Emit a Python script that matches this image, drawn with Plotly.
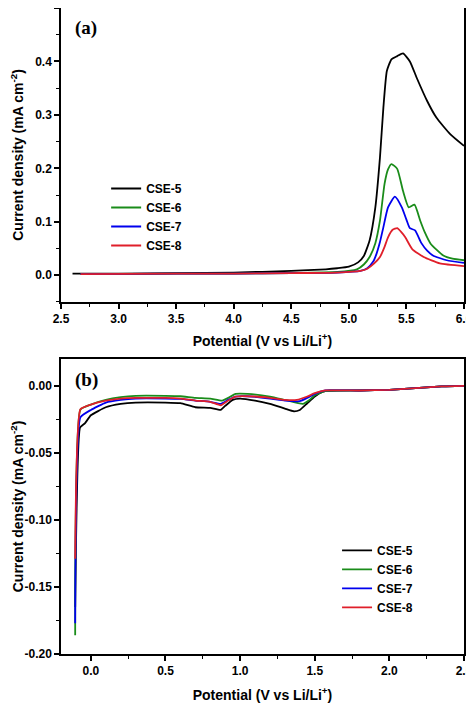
import plotly.graph_objects as go

names = ["CSE-5", "CSE-6", "CSE-7", "CSE-8"]
colors = ["#000000", "#1a8c1a", "#0000ee", "#e01f2a"]

# (a) linear sweep, oxidation side
a_x5 = [2.6, 3.0, 3.5, 4.0, 4.5, 4.8, 4.9, 5.0, 5.08, 5.13, 5.18, 5.23, 5.27, 5.30, 5.33, 5.37, 5.42, 5.47, 5.53, 5.59, 5.68, 5.76, 5.88, 6.0]
a_y5 = [0.003, 0.003, 0.004, 0.005, 0.008, 0.011, 0.013, 0.016, 0.024, 0.036, 0.065, 0.127, 0.22, 0.314, 0.382, 0.404, 0.41, 0.415, 0.40, 0.369, 0.326, 0.295, 0.264, 0.242]
a_x6 = [2.67, 3.0, 3.5, 4.0, 4.5, 4.9, 5.07, 5.13, 5.18, 5.23, 5.27, 5.31, 5.34, 5.37, 5.42, 5.47, 5.52, 5.57, 5.62, 5.66, 5.71, 5.82, 5.9, 6.0]
a_y6 = [0.002, 0.002, 0.003, 0.003, 0.004, 0.006, 0.011, 0.02, 0.034, 0.06, 0.102, 0.171, 0.198, 0.208, 0.199, 0.158, 0.127, 0.132, 0.102, 0.08, 0.059, 0.037, 0.031, 0.028]
a_x7 = [2.67, 3.5, 4.0, 4.5, 4.9, 5.1, 5.16, 5.21, 5.24, 5.27, 5.30, 5.34, 5.40, 5.46, 5.50, 5.53, 5.575, 5.63, 5.68, 5.73, 5.85, 6.0]
a_y7 = [0.002, 0.003, 0.003, 0.004, 0.005, 0.008, 0.013, 0.025, 0.04, 0.062, 0.09, 0.127, 0.147, 0.127, 0.104, 0.088, 0.084, 0.06, 0.046, 0.037, 0.028, 0.023]
a_x8 = [2.67, 3.5, 4.0, 4.5, 4.9, 5.1, 5.16, 5.22, 5.27, 5.31, 5.34, 5.38, 5.42, 5.45, 5.49, 5.55, 5.65, 5.79, 6.0]
a_y8 = [0.002, 0.003, 0.003, 0.004, 0.005, 0.008, 0.012, 0.022, 0.034, 0.053, 0.071, 0.085, 0.088, 0.082, 0.071, 0.049, 0.034, 0.022, 0.017]

# (b) reduction side
b_x5 = [-0.105, -0.072, -0.04, 0.0, 0.1, 0.2, 0.3, 0.5, 0.6, 0.7, 0.8, 0.87, 0.9, 0.95, 1.0, 1.1, 1.2, 1.3, 1.36, 1.4, 1.45, 1.5, 1.55, 1.6, 1.8, 2.0, 2.2, 2.35, 2.5]
b_y5 = [-0.165, -0.031, -0.028, -0.022, -0.016, -0.0135, -0.0125, -0.0125, -0.013, -0.016, -0.0165, -0.018, -0.015, -0.0105, -0.0095, -0.011, -0.0135, -0.017, -0.019, -0.018, -0.013, -0.008, -0.0045, -0.0035, -0.0035, -0.003, -0.0015, -0.0004, 0.0]
b_x6 = [-0.105, -0.07, 0.0, 0.1, 0.2, 0.3, 0.5, 0.6, 0.7, 0.8, 0.88, 0.92, 0.97, 1.05, 1.2, 1.3, 1.42, 1.46, 1.5, 1.57, 1.8, 2.0, 2.2, 2.35, 2.5]
b_y6 = [-0.186, -0.0178, -0.014, -0.0105, -0.0085, -0.0075, -0.0075, -0.0078, -0.009, -0.0095, -0.011, -0.009, -0.006, -0.006, -0.008, -0.0105, -0.0135, -0.011, -0.007, -0.004, -0.0035, -0.003, -0.0015, -0.0004, 0.0]
b_x7 = [-0.105, -0.07, 0.0, 0.1, 0.2, 0.3, 0.5, 0.6, 0.7, 0.8, 0.87, 0.92, 0.97, 1.05, 1.2, 1.3, 1.4, 1.45, 1.5, 1.57, 1.8, 2.0, 2.2, 2.35, 2.5]
b_y7 = [-0.177, -0.0235, -0.018, -0.0125, -0.0105, -0.0095, -0.0095, -0.0098, -0.011, -0.012, -0.0135, -0.0105, -0.008, -0.0078, -0.0095, -0.011, -0.0115, -0.009, -0.006, -0.0035, -0.0035, -0.003, -0.0015, -0.0004, 0.0]
b_x8 = [-0.105, -0.07, 0.0, 0.1, 0.2, 0.3, 0.5, 0.6, 0.7, 0.8, 0.87, 0.92, 0.97, 1.1, 1.2, 1.3, 1.38, 1.45, 1.5, 1.57, 1.8, 2.0, 2.2, 2.35, 2.5]
b_y8 = [-0.129, -0.0175, -0.014, -0.011, -0.0095, -0.009, -0.009, -0.0095, -0.011, -0.012, -0.0145, -0.011, -0.008, -0.008, -0.009, -0.0105, -0.0105, -0.008, -0.0055, -0.0035, -0.0035, -0.003, -0.0015, -0.0004, 0.0]

# y tick labels of (b), written with a plain hyphen like the original
b_yticks = [0.0, -0.05, -0.10, -0.15, -0.20]
b_yticklabels = ["0.00", "-0.05", "-0.10", "-0.15", "-0.20"]

a_data = [(a_x5, a_y5), (a_x6, a_y6), (a_x7, a_y7), (a_x8, a_y8)]
b_data = [(b_x5, b_y5), (b_x6, b_y6), (b_x7, b_y7), (b_x8, b_y8)]

fig = go.Figure()

for (x, y), name, c in zip(a_data, names, colors):
    fig.add_trace(go.Scatter(x=x, y=y, mode="lines", name=name, line=dict(color=c, width=1.8, shape="spline", smoothing=0.5),
                             xaxis="x", yaxis="y", legend="legend"))
for (x, y), name, c in zip(b_data, names, colors):
    fig.add_trace(go.Scatter(x=x, y=y, mode="lines", name=name, line=dict(color=c, width=1.8, shape="spline", smoothing=0.4),
                             xaxis="x2", yaxis="y2", legend="legend2"))

tickfont = dict(family="Liberation Sans, Arial", size=12, color="black", weight="bold")
titlefont = dict(family="Liberation Sans, Arial", size=14, color="black", weight="bold")
axis_common = dict(showline=True, linecolor="black", linewidth=1.5, mirror=True, ticks="outside", ticklen=5,
                   tickwidth=1.5, tickcolor="black", showgrid=False, zeroline=False, tickfont=tickfont, automargin=False)
minor = dict(ticks="outside", ticklen=3, tickwidth=1.2, tickcolor="black", showgrid=False)
xtitle = "Potential (V vs Li/Li<sup>+</sup>)"
ytitle = "Current density (mA cm<sup>-2</sup>)"
legfont = dict(family="Liberation Sans, Arial", size=12, color="black", weight="bold")

# the page adds an 8px body margin, so the figure is drawn 8px smaller
fig.update_layout(
    width=466, height=696,
    margin=dict(l=53, r=10, t=0, b=50),
    plot_bgcolor="white", paper_bgcolor="white",
    xaxis=dict(axis_common, range=[2.5, 6.0], dtick=0.5, tickformat=".1f", minor=dict(minor, dtick=0.25),
               domain=[0, 1], anchor="y", title=dict(text=xtitle, font=titlefont, standoff=11)),
    yaxis=dict(axis_common, range=[-0.05, 0.5], dtick=0.1, tick0=0, tickformat=".1f", minor=dict(minor, dtick=0.05),
               domain=[0.545, 1], anchor="x", title=dict(text=ytitle, font=titlefont, standoff=14)),
    xaxis2=dict(axis_common, range=[-0.2, 2.5], dtick=0.5, tick0=0, tickformat=".1f", minor=dict(minor, dtick=0.25),
                domain=[0, 1], anchor="y2", title=dict(text=xtitle, font=titlefont, standoff=13)),
    yaxis2=dict(axis_common, range=[-0.2, 0.02], tickvals=b_yticks, ticktext=b_yticklabels,
                minor=dict(minor, tickvals=[-0.025, -0.075, -0.125, -0.175]),
                domain=[0, 0.4567], anchor="x2", title=dict(text=ytitle, font=titlefont, standoff=5)),
    legend=dict(x=0.112, y=0.743, xanchor="left", yanchor="top", bgcolor="rgba(0,0,0,0)", font=legfont, tracegroupgap=0),
    legend2=dict(x=0.685, y=0.183, xanchor="left", yanchor="top", bgcolor="rgba(0,0,0,0)", font=legfont, tracegroupgap=0),
    showlegend=True,
)

fig.add_annotation(text="(a)", xref="paper", yref="paper", x=0.03, y=0.969, xanchor="left", yanchor="middle",
                   showarrow=False, font=dict(family="Liberation Serif, Times New Roman", size=19, color="black", weight="bold"))
fig.add_annotation(text="(b)", xref="paper", yref="paper", x=0.03, y=0.424, xanchor="left", yanchor="middle",
                   showarrow=False, font=dict(family="Liberation Serif, Times New Roman", size=19, color="black", weight="bold"))

fig.write_html("out.html")
